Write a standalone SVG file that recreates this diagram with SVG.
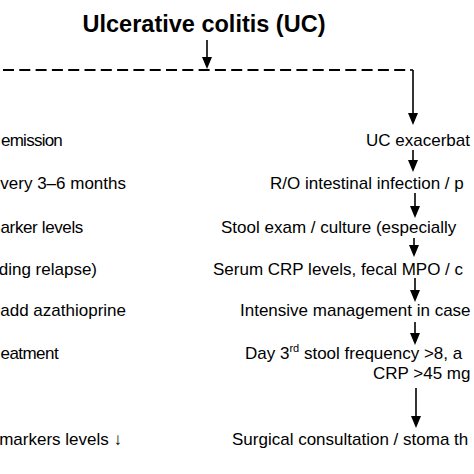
<svg xmlns="http://www.w3.org/2000/svg" width="474" height="474" viewBox="0 0 474 474">
<defs>
<style>
text{font-family:"Liberation Sans",Arial,sans-serif;font-size:17px;fill:#000}
.title{font-size:23.5px;font-weight:bold}
.arr{stroke:#000;stroke-width:1.6;fill:none}
.dash{stroke:#000;stroke-width:2;stroke-dasharray:11 5.3;fill:none}
</style>
</defs>
<rect width="474" height="474" fill="#fff"/>
<g id="connectors">
<line class="dash" x1="3" y1="70" x2="406" y2="70"/>
<line class="arr" x1="410" y1="70" x2="413" y2="70"/>
<path class="arr" d="M207,40 V57"/><path d="M202,57 L212,57 L207,69 Z"/>
<path class="arr" d="M413,70 V113"/><path d="M408,113 L418,113 L413,125 Z"/>
<path class="arr" d="M413,150 V160"/><path d="M408,160 L418,160 L413,172 Z"/>
<path class="arr" d="M415,193 V206"/><path d="M410,206 L420,206 L415,218 Z"/>
<path class="arr" d="M414,238 V245"/><path d="M409,245 L419,245 L414,257 Z"/>
<path class="arr" d="M415,278 V290"/><path d="M410,290 L420,290 L415,302 Z"/>
<path class="arr" d="M415,322 V333"/><path d="M410,333 L420,333 L415,345 Z"/>
<path class="arr" d="M416,388 V416"/><path d="M411,416 L421,416 L416,428 Z"/>
</g>
<g id="title"><text class="title" x="204" y="31.5" text-anchor="middle">Ulcerative colitis (UC)</text></g>
<g id="left">
<text x="1" y="145.5" letter-spacing="-0.75">emission</text>
<text x="126" y="189" text-anchor="end">very 3–6 months</text>
<text x="0.5" y="233" letter-spacing="-0.37">arker levels</text>
<text x="97" y="275" text-anchor="end">ding relapse)</text>
<text x="126" y="315.5" text-anchor="end">add azathioprine</text>
<text x="0.5" y="359" letter-spacing="-0.55">eatment</text>
<text x="122" y="445" text-anchor="end">markers levels ↓</text>
</g>
<g id="n1"><text x="366" y="145.5">UC exacerbat</text></g>
<g id="n2"><text x="270" y="189">R/O intestinal infection / p</text></g>
<g id="n3"><text x="221" y="233">Stool exam / culture (especially</text></g>
<g id="n4"><text x="213" y="275">Serum CRP levels, fecal MPO / c</text></g>
<g id="n5"><text x="240" y="315.5">Intensive management in case</text></g>
<g id="n6"><text x="245" y="359">Day 3<tspan font-size="11" dy="-7">rd</tspan><tspan dy="7"> stool frequency &gt;8, a</tspan></text>
<text x="373" y="379">CRP &gt;45 mg</text></g>
<g id="n7"><text x="232" y="445">Surgical consultation / stoma th</text></g>
</svg>
